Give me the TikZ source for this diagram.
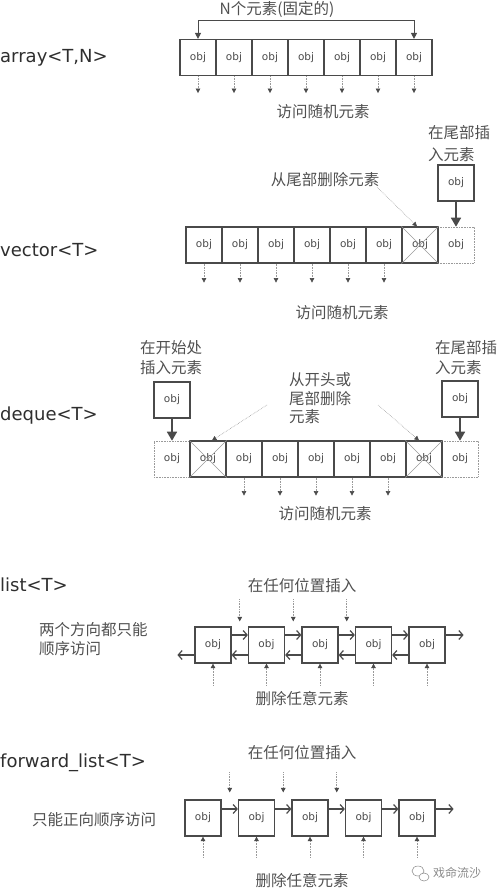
\documentclass[tikz,border=0pt]{standalone}
\usepackage{fontspec}
\setmainfont{DejaVu Sans}
\newfontfamily\cjk{Noto Sans CJK SC}
\usetikzlibrary{arrows.meta,calc}
\definecolor{boxc}{HTML}{4A4A4A}
\definecolor{txtc}{HTML}{505050}
\definecolor{dotc}{HTML}{9A9A9A}
\definecolor{labc}{HTML}{2E2E2E}
\definecolor{wmc}{HTML}{8A8A8A}
\begin{document}
\begin{tikzpicture}[x=1pt,y=-1pt,
  box/.style={draw=boxc, line width=1.2pt, minimum width=36pt, minimum height=36pt, inner sep=0pt, font=\fontsize{10.5}{12}\selectfont, text=boxc},
  dbox/.style={box, draw=dotc, line width=0.6pt, densely dotted},
  xline/.style={draw=dotc, line width=0.5pt},
  title/.style={font=\fontsize{18}{20}\selectfont, text=labc, inner sep=0pt, anchor=west},
  cjkt/.style={font=\cjk\fontsize{15.5}{20}\selectfont, text=txtc, inner sep=0pt},
  dotarr/.style={draw=dotc, line width=0.6pt, densely dotted, -{Triangle[length=4.5pt,width=4.5pt,color=boxc]}},
  brk/.style={draw=boxc, line width=1pt, {Triangle[length=6pt,width=6pt]}-{Triangle[length=6pt,width=6pt]}},
  ins/.style={draw=boxc, line width=1.6pt, -{Triangle[length=9pt,width=10pt]}},
  larr/.style={draw=boxc, line width=1.2pt, -{Straight Barb[length=4pt,width=9pt]}}
]
\path[use as bounding box] (0,0) rectangle (500,894);

% ---------- array ----------
\node[title] (tA) at (0,58) {array<T,N>};
\foreach \i in {1,...,7} \node[box] (a\i) at ({162+36*\i},57.5) {obj};
\draw[brk] (a1.north) -- ++(0,-18) -| (a7.north);
\node[cjkt] (aN) at (277,9) {N个元素(固定的)};
\foreach \i in {1,...,7} \draw[dotarr] (a\i.south) -- ++(0,17);
\node[cjkt] (aR) at (323,112) {访问随机元素};

% ---------- vector ----------
\node[title] (tV) at (0,250) {vector<T>};
\node[dbox] (v8) at (456,245) {obj};
\foreach \i in {1,...,7} \node[box] (v\i) at ({168+36*\i},245) {obj};
\draw[xline] (v7.north west) -- (v7.south east) (v7.north east) -- (v7.south west);
\node[box] (vi) at (456,183) {obj};
\draw[ins] (vi.south) -- (v8.north);
\node[cjkt, align=left, anchor=west, font=\cjk\fontsize{15.5}{22}\selectfont] (vT) at (428,144) {在尾部插\\入元素};
\node[cjkt] (vD) at (325,180) {从尾部删除元素};
\coordinate (vDs) at (377,187);
\draw[dotarr] (vDs) -- ([xshift=-3pt]v7.north);
\foreach \i in {1,...,6} \draw[dotarr] (v\i.south) -- ++(0,19);
\node[cjkt] (vR) at (342,313) {访问随机元素};

% ---------- deque ----------
\node[title] (tD) at (0,416) {deque<T>};
\node[dbox] (d0) at (172,459) {obj};
\node[dbox] (d8) at (460,459) {obj};
\foreach \i in {1,...,7} \node[box] (d\i) at ({172+36*\i},459) {obj};
\draw[xline] (d1.north west) -- (d1.south east) (d1.north east) -- (d1.south west);
\draw[xline] (d7.north west) -- (d7.south east) (d7.north east) -- (d7.south west);
\node[box] (dl) at (172,400) {obj};
\node[box] (dr) at (460,399) {obj};
\draw[ins] (dl.south) -- (d0.north);
\draw[ins] (dr.south) -- (d8.north);
\node[cjkt, align=left, anchor=west] (dLT) at (140,358) {在开始处\\插入元素};
\node[cjkt, align=left, anchor=west] (dRT) at (435,358) {在尾部插\\入元素};
\node[cjkt, align=left, anchor=west, font=\cjk\fontsize{15.5}{18.5}\selectfont] (dD) at (289,398.5) {从开头或\\尾部删除\\元素};
\coordinate (dDl) at (267,405);
\coordinate (dDr) at (378,405);
\draw[dotarr] (dDl) -- ([xshift=4pt]d1.north);
\draw[dotarr] (dDr) -- ([xshift=-5pt]d7.north);
\foreach \i in {2,...,6} \draw[dotarr] (d\i.south) -- ++(0,18);
\node[cjkt] (dR) at (325,514) {访问随机元素};

% ---------- list ----------
\node[title] (tL) at (0,585) {list<T>};
\node[cjkt] (lI) at (302,586) {在任何位置插入};
\node[cjkt, align=left, anchor=west, font=\cjk\fontsize{15.5}{18.5}\selectfont] (lT) at (39,639) {两个方向都只能\\顺序访问};
\foreach \i in {1,...,5} \node[box] (l\i) at ({159.5+53.5*\i},645) {obj};
\foreach \i/\j in {1/2,2/3,3/4,4/5} {
  \draw[larr] ([yshift=10pt]l\i.east) -- ([yshift=10pt]l\j.west);
  \draw[larr] ([yshift=-10pt]l\j.west) -- ([yshift=-10pt]l\i.east);
}
\draw[larr] ([yshift=10pt]l5.east) -- ++(18,0);
\draw[larr] ([yshift=-10pt]l1.west) -- ++(-17,0);
\foreach \i/\j in {1/2,2/3,3/4} {
  \coordinate (lg\i) at ($(l\i.north east)!0.5!(l\j.north west)$);
  \draw[dotarr] ($(lg\i)+(0,-27)$) -- ($(lg\i)+(0,-5)$);
}
\foreach \i in {1,...,5} \draw[dotarr] ($(l\i.south)+(0,22)$) -- (l\i.south);
\node[cjkt] (lR) at (302,699) {删除任意元素};

% ---------- forward_list ----------
\node[title] (tF) at (0,763) {forward\_list<T>};
\node[cjkt] (fI) at (302,753) {在任何位置插入};
\node[cjkt, anchor=west] (fT) at (32,820) {只能正向顺序访问};
\foreach \i in {1,...,5} \node[box] (f\i) at ({149.5+53.5*\i},818) {obj};
\foreach \i/\j in {1/2,2/3,3/4,4/5} \draw[larr] ([yshift=9pt]f\i.east) -- ([yshift=9pt]f\j.west);
\draw[larr] ([yshift=9pt]f5.east) -- ++(18,0);
\foreach \i/\j in {1/2,2/3,3/4} {
  \coordinate (fg\i) at ($(f\i.north east)!0.5!(f\j.north west)$);
  \draw[dotarr] ($(fg\i)+(0,-27)$) -- ($(fg\i)+(0,-7)$);
}
\foreach \i in {1,...,5} \draw[dotarr] ($(f\i.south)+(0,21)$) -- (f\i.south);
\node[cjkt] (fR) at (302,881) {删除任意元素};

% ---------- watermark ----------
\draw[wmc, line width=0.5pt] (418,871) ellipse (6pt and 5pt);
\draw[wmc, line width=0.5pt, fill=white] (424,877) ellipse (5pt and 4pt);
\node[font=\cjk\fontsize{12}{14}\selectfont, text=wmc, anchor=west, inner sep=0pt] (wm) at (433,873) {戏命流沙};
\end{tikzpicture}
\end{document}
